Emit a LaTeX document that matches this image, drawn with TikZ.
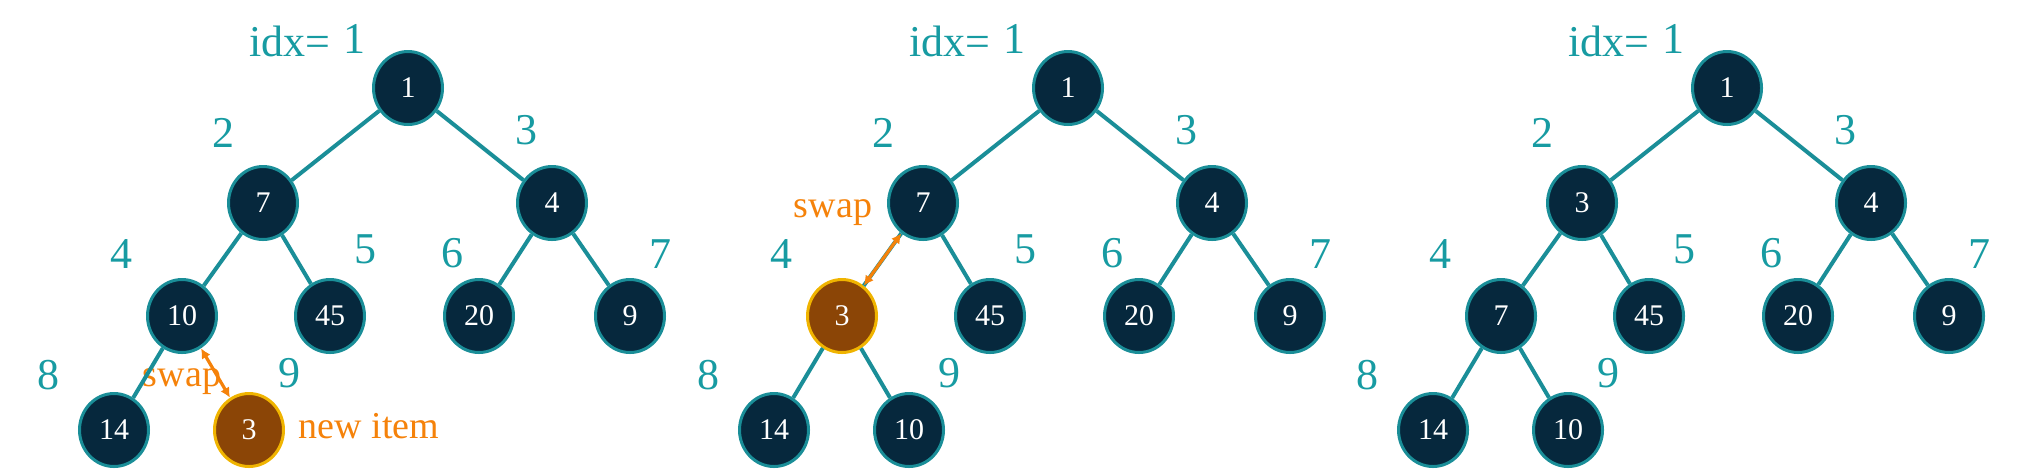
\documentclass[tikz,border=0pt]{standalone}
\usepackage{fontspec}
\setmainfont{Liberation Serif}
\usetikzlibrary{shapes.geometric,arrows.meta}
\definecolor{navy}{HTML}{06283D}
\definecolor{tealb}{HTML}{1A8E98}
\definecolor{tlab}{HTML}{179BA2}
\definecolor{orng}{HTML}{F5820A}
\definecolor{brwn}{HTML}{8B4506}
\definecolor{ylw}{HTML}{F0B400}
\tikzset{
  hnode/.style={ellipse,draw=tealb,line width=1.5pt,fill=navy,text=white,minimum width=34.5pt,minimum height=36.5pt,inner sep=0pt,font=\fontsize{15}{15}\selectfont},
  newnode/.style={hnode,fill=brwn,draw=ylw},
  edge/.style={draw=tealb,line width=2pt},
  idxlab/.style={text=tlab,font=\fontsize{22}{22}\selectfont},
  olab/.style={text=orng,font=\fontsize{19}{19}\selectfont},
  swaparr/.style={orng,line width=1.6pt,{Latex[length=5pt,width=5pt]}-{Latex[length=5pt,width=5pt]}}
}
\begin{document}
\begin{tikzpicture}[x=0.5pt,y=-0.5pt]
\useasboundingbox (0,0) rectangle (2022,468);
\foreach \t/\dx/\a/\b/\d/\i/\bn/\sw in {A/0/7/10/3/14/3/0, B/660/7/3/10/14/10/1, C/1319/3/7/10/14/10/2}{
  \begin{scope}[xshift=\dx*0.5pt]
  \node[idxlab] (\t idx) at (290,41) {idx=};
  \node[idxlab] (\t l1) at (354,39) {1};
  \node[idxlab] (\t l2) at (223,133) {2};
  \node[idxlab] (\t l3) at (526,130) {3};
  \node[idxlab] (\t l4) at (121,254) {4};
  \node[idxlab] (\t l5) at (365,249) {5};
  \node[idxlab] (\t l6) at (452,253) {6};
  \node[idxlab] (\t l7) at (660,254) {7};
  \node[idxlab] (\t l8) at (48,375) {8};
  \node[idxlab] (\t l9) at (289,373) {9};
  \node[hnode] (\t n1) at (408,88) {1};
  \node[hnode] (\t n3) at (552,203) {4};
  \node[hnode] (\t n5) at (330,316) {45};
  \node[hnode] (\t n6) at (479,316) {20};
  \node[hnode] (\t n7) at (630,316) {9};
  \node[hnode] (\t n8) at (114,430) {14};
  \end{scope}
}
% tree A
\begin{scope}
\node[hnode] (An2) at (263,203) {7};
\node[hnode] (An4) at (182,316) {10};
\node[newnode] (An9) at (249,430) {3};
\node[olab] (Asw) at (182,382) {swap};
\node[olab] (Anew) at (369,426) {new item};
\end{scope}
\begin{scope}[xshift=330pt]
\node[hnode] (Bn2) at (263,203) {7};
\node[newnode] (Bn4) at (182,316) {3};
\node[hnode] (Bn9) at (249,430) {10};
\node[olab] (Bsw) at (173,213) {swap};
\end{scope}
\begin{scope}[xshift=659.5pt]
\node[hnode] (Cn2) at (263,203) {3};
\node[hnode] (Cn4) at (182,316) {7};
\node[hnode] (Cn9) at (249,430) {10};
\end{scope}
\foreach \t in {A,B,C}{
  \draw[edge] (\t n1) -- (\t n2);
  \draw[edge] (\t n1) -- (\t n3);
  \draw[edge] (\t n2) -- (\t n4);
  \draw[edge] (\t n2) -- (\t n5);
  \draw[edge] (\t n3) -- (\t n6);
  \draw[edge] (\t n3) -- (\t n7);
  \draw[edge] (\t n4) -- (\t n8);
}
\draw[edge] (Bn4) -- (Bn9);
\draw[edge] (Cn4) -- (Cn9);
\draw[swaparr] (An4) -- (An9);
\draw[swaparr] (Bn2) -- (Bn4);
\end{tikzpicture}
\end{document}
